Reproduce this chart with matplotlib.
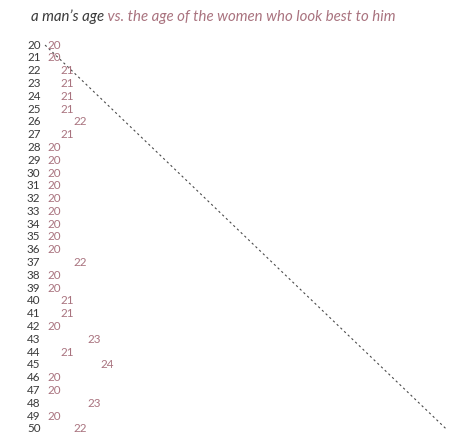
import matplotlib
matplotlib.use('Agg')
import matplotlib.pyplot as plt

# man's age -> age of women who look best to him
men_ages = list(range(20, 51))
women_ages = [20, 20, 21, 21, 21, 21, 22, 21, 20, 20,
              20, 20, 20, 20, 20, 20, 20, 22, 20, 20,
              21, 21, 20, 23, 21, 24, 20, 20, 23, 20,
              22]

title_a = "a man\u2019s age"
title_b = " vs. the age of the women who look best to him"

dark = '#3a3a3a'
rose = '#a9737f'

fig = plt.figure(figsize=(4.74, 4.42), dpi=100)
ax = fig.add_axes([0, 0, 1, 1])
ax.set_xlim(16.63, 52.08)
ax.set_ylim(51.02, 16.48)
ax.axis('off')

# reference diagonal: same age
ax.plot([20, 50], [20, 50], color='#4a4a4a', linewidth=0.8,
        linestyle=(0, (2, 2.6)), zorder=1)

for m, w in zip(men_ages, women_ages):
    ax.text(18.65, m, str(m), color=dark, fontsize=8.4, family='Lato',
            ha='left', va='center')
    ax.text(w + 0.15, m, str(w), color=rose, fontsize=8.4, family='Lato',
            ha='left', va='center')

t1 = fig.text(31 / 474, 1 - 17 / 442, title_a, color=dark, fontsize=10.8,
              family='Lato', style='italic', ha='left', va='center')
fig.canvas.draw()
bb = t1.get_window_extent()
fig.text(bb.x1 / fig.bbox.width, 1 - 17 / 442, title_b, color=rose,
         fontsize=10.8, family='Lato', style='italic', ha='left', va='center')

fig.savefig('out.png', dpi=100)
